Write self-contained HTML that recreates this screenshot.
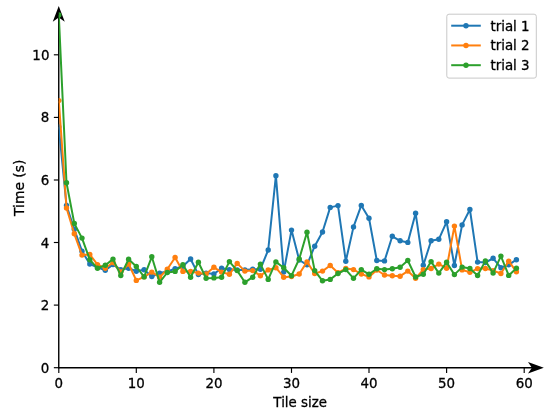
<!DOCTYPE html>
<html><head><meta charset="utf-8"><title>Tile size timing</title>
<style>
html,body{margin:0;padding:0;background:#fff;}
svg{display:block;}
text{font-family:"DejaVu Sans","Liberation Sans",sans-serif;font-size:13.9px;fill:#000;stroke:#000;stroke-width:0.3px;}
</style></head><body>
<svg width="550" height="415" viewBox="0 0 550 415">
<rect width="550" height="415" fill="#fff"/>
<defs><clipPath id="ax"><rect x="58.75" y="9" width="483" height="358.8"/></clipPath></defs>
<g stroke="#000" stroke-width="1.4" fill="none"><line x1="58.75" y1="368.34999999999997" x2="58.75" y2="17"/><line x1="58.1" y1="367.7" x2="532" y2="367.7"/></g>
<polygon points="58.75,6 64.75,21.7 58.75,17.6 52.75,21.7" fill="#000"/><polygon points="543.8,367.7 528,361.9 531.9,367.7 528,373.5" fill="#000"/>
<g stroke="#000" stroke-width="1.15"><line x1="58.8" y1="367.7" x2="58.8" y2="372.9"/><line x1="136.3" y1="367.7" x2="136.3" y2="372.9"/><line x1="213.9" y1="367.7" x2="213.9" y2="372.9"/><line x1="291.5" y1="367.7" x2="291.5" y2="372.9"/><line x1="369.0" y1="367.7" x2="369.0" y2="372.9"/><line x1="446.6" y1="367.7" x2="446.6" y2="372.9"/><line x1="524.2" y1="367.7" x2="524.2" y2="372.9"/><line x1="58.75" y1="367.7" x2="53.85" y2="367.7"/><line x1="58.75" y1="305.1" x2="53.85" y2="305.1"/><line x1="58.75" y1="242.5" x2="53.85" y2="242.5"/><line x1="58.75" y1="180.0" x2="53.85" y2="180.0"/><line x1="58.75" y1="117.4" x2="53.85" y2="117.4"/><line x1="58.75" y1="54.8" x2="53.85" y2="54.8"/></g>
<g text-anchor="middle"><text transform="translate(58.8,387.5) scale(0.965,1)">0</text><text transform="translate(136.3,387.5) scale(0.965,1)">10</text><text transform="translate(213.9,387.5) scale(0.965,1)">20</text><text transform="translate(291.5,387.5) scale(0.965,1)">30</text><text transform="translate(369.0,387.5) scale(0.965,1)">40</text><text transform="translate(446.6,387.5) scale(0.965,1)">50</text><text transform="translate(524.2,387.5) scale(0.965,1)">60</text></g>
<g text-anchor="end"><text transform="translate(49.4,372.7) scale(0.965,1)">0</text><text transform="translate(49.4,310.1) scale(0.965,1)">2</text><text transform="translate(49.4,247.5) scale(0.965,1)">4</text><text transform="translate(49.4,185.0) scale(0.965,1)">6</text><text transform="translate(49.4,122.4) scale(0.965,1)">8</text><text transform="translate(49.4,59.8) scale(0.965,1)">10</text></g>
<text transform="translate(300.2,406.5) scale(0.965,1)" text-anchor="middle">Tile size</text>
<text transform="translate(24.2,187.8) rotate(-90) scale(1,0.965)" text-anchor="middle">Time (s)</text>
<g clip-path="url(#ax)">
<polyline points="58.8,127.0 66.5,205.5 74.3,229.3 82.0,251.2 89.8,264.0 97.5,267.3 105.3,270.3 113.0,264.6 120.8,269.6 128.6,268.3 136.3,271.2 144.1,269.8 151.8,276.5 159.6,273.1 167.3,271.4 175.1,268.7 182.9,266.3 190.6,259.0 198.4,274.6 206.1,273.1 213.9,274.0 221.6,268.2 229.4,269.6 237.2,269.9 244.9,269.9 252.7,269.2 260.4,269.2 268.2,250.0 275.9,175.7 283.7,272.1 291.5,230.1 299.2,260.0 307.0,264.8 314.7,246.2 322.5,232.0 330.2,207.4 338.0,205.6 345.8,261.2 353.5,226.9 361.3,205.4 369.0,218.3 376.8,260.5 384.5,260.9 392.3,236.3 400.1,240.8 407.8,242.4 415.6,213.2 423.3,265.3 431.1,240.7 438.8,239.3 446.6,221.8 454.4,265.5 462.1,224.9 469.9,209.5 477.6,262.1 485.4,262.5 493.1,258.3 500.9,267.7 508.7,264.8 516.4,259.7" fill="none" stroke="#1f77b4" stroke-width="2.0" stroke-linejoin="round" stroke-linecap="butt"/>
<g fill="#1f77b4"><circle cx="58.8" cy="127.0" r="2.7"/><circle cx="66.5" cy="205.5" r="2.7"/><circle cx="74.3" cy="229.3" r="2.7"/><circle cx="82.0" cy="251.2" r="2.7"/><circle cx="89.8" cy="264.0" r="2.7"/><circle cx="97.5" cy="267.3" r="2.7"/><circle cx="105.3" cy="270.3" r="2.7"/><circle cx="113.0" cy="264.6" r="2.7"/><circle cx="120.8" cy="269.6" r="2.7"/><circle cx="128.6" cy="268.3" r="2.7"/><circle cx="136.3" cy="271.2" r="2.7"/><circle cx="144.1" cy="269.8" r="2.7"/><circle cx="151.8" cy="276.5" r="2.7"/><circle cx="159.6" cy="273.1" r="2.7"/><circle cx="167.3" cy="271.4" r="2.7"/><circle cx="175.1" cy="268.7" r="2.7"/><circle cx="182.9" cy="266.3" r="2.7"/><circle cx="190.6" cy="259.0" r="2.7"/><circle cx="198.4" cy="274.6" r="2.7"/><circle cx="206.1" cy="273.1" r="2.7"/><circle cx="213.9" cy="274.0" r="2.7"/><circle cx="221.6" cy="268.2" r="2.7"/><circle cx="229.4" cy="269.6" r="2.7"/><circle cx="237.2" cy="269.9" r="2.7"/><circle cx="244.9" cy="269.9" r="2.7"/><circle cx="252.7" cy="269.2" r="2.7"/><circle cx="260.4" cy="269.2" r="2.7"/><circle cx="268.2" cy="250.0" r="2.7"/><circle cx="275.9" cy="175.7" r="2.7"/><circle cx="283.7" cy="272.1" r="2.7"/><circle cx="291.5" cy="230.1" r="2.7"/><circle cx="299.2" cy="260.0" r="2.7"/><circle cx="307.0" cy="264.8" r="2.7"/><circle cx="314.7" cy="246.2" r="2.7"/><circle cx="322.5" cy="232.0" r="2.7"/><circle cx="330.2" cy="207.4" r="2.7"/><circle cx="338.0" cy="205.6" r="2.7"/><circle cx="345.8" cy="261.2" r="2.7"/><circle cx="353.5" cy="226.9" r="2.7"/><circle cx="361.3" cy="205.4" r="2.7"/><circle cx="369.0" cy="218.3" r="2.7"/><circle cx="376.8" cy="260.5" r="2.7"/><circle cx="384.5" cy="260.9" r="2.7"/><circle cx="392.3" cy="236.3" r="2.7"/><circle cx="400.1" cy="240.8" r="2.7"/><circle cx="407.8" cy="242.4" r="2.7"/><circle cx="415.6" cy="213.2" r="2.7"/><circle cx="423.3" cy="265.3" r="2.7"/><circle cx="431.1" cy="240.7" r="2.7"/><circle cx="438.8" cy="239.3" r="2.7"/><circle cx="446.6" cy="221.8" r="2.7"/><circle cx="454.4" cy="265.5" r="2.7"/><circle cx="462.1" cy="224.9" r="2.7"/><circle cx="469.9" cy="209.5" r="2.7"/><circle cx="477.6" cy="262.1" r="2.7"/><circle cx="485.4" cy="262.5" r="2.7"/><circle cx="493.1" cy="258.3" r="2.7"/><circle cx="500.9" cy="267.7" r="2.7"/><circle cx="508.7" cy="264.8" r="2.7"/><circle cx="516.4" cy="259.7" r="2.7"/></g>
<polyline points="58.8,100.6 66.5,208.0 74.3,233.8 82.0,255.1 89.8,254.5 97.5,264.6 105.3,268.2 113.0,262.5 120.8,272.0 128.6,264.0 136.3,280.4 144.1,276.8 151.8,272.1 159.6,277.2 167.3,269.2 175.1,257.5 182.9,271.4 190.6,271.4 198.4,273.1 206.1,274.0 213.9,267.3 221.6,272.1 229.4,274.3 237.2,263.4 244.9,271.1 252.7,270.6 260.4,275.7 268.2,269.9 275.9,267.7 283.7,277.2 291.5,276.5 299.2,274.0 307.0,261.9 314.7,273.5 322.5,271.1 330.2,265.5 338.0,272.8 345.8,268.4 353.5,269.6 361.3,274.0 369.0,276.9 376.8,270.0 384.5,275.0 392.3,275.7 400.1,276.2 407.8,271.1 415.6,278.3 423.3,269.6 431.1,268.5 438.8,264.1 446.6,268.2 454.4,226.1 462.1,269.9 469.9,272.3 477.6,268.6 485.4,268.5 493.1,270.6 500.9,273.5 508.7,261.2 516.4,271.7" fill="none" stroke="#ff7f0e" stroke-width="2.0" stroke-linejoin="round" stroke-linecap="butt"/>
<g fill="#ff7f0e"><circle cx="58.8" cy="100.6" r="2.7"/><circle cx="66.5" cy="208.0" r="2.7"/><circle cx="74.3" cy="233.8" r="2.7"/><circle cx="82.0" cy="255.1" r="2.7"/><circle cx="89.8" cy="254.5" r="2.7"/><circle cx="97.5" cy="264.6" r="2.7"/><circle cx="105.3" cy="268.2" r="2.7"/><circle cx="113.0" cy="262.5" r="2.7"/><circle cx="120.8" cy="272.0" r="2.7"/><circle cx="128.6" cy="264.0" r="2.7"/><circle cx="136.3" cy="280.4" r="2.7"/><circle cx="144.1" cy="276.8" r="2.7"/><circle cx="151.8" cy="272.1" r="2.7"/><circle cx="159.6" cy="277.2" r="2.7"/><circle cx="167.3" cy="269.2" r="2.7"/><circle cx="175.1" cy="257.5" r="2.7"/><circle cx="182.9" cy="271.4" r="2.7"/><circle cx="190.6" cy="271.4" r="2.7"/><circle cx="198.4" cy="273.1" r="2.7"/><circle cx="206.1" cy="274.0" r="2.7"/><circle cx="213.9" cy="267.3" r="2.7"/><circle cx="221.6" cy="272.1" r="2.7"/><circle cx="229.4" cy="274.3" r="2.7"/><circle cx="237.2" cy="263.4" r="2.7"/><circle cx="244.9" cy="271.1" r="2.7"/><circle cx="252.7" cy="270.6" r="2.7"/><circle cx="260.4" cy="275.7" r="2.7"/><circle cx="268.2" cy="269.9" r="2.7"/><circle cx="275.9" cy="267.7" r="2.7"/><circle cx="283.7" cy="277.2" r="2.7"/><circle cx="291.5" cy="276.5" r="2.7"/><circle cx="299.2" cy="274.0" r="2.7"/><circle cx="307.0" cy="261.9" r="2.7"/><circle cx="314.7" cy="273.5" r="2.7"/><circle cx="322.5" cy="271.1" r="2.7"/><circle cx="330.2" cy="265.5" r="2.7"/><circle cx="338.0" cy="272.8" r="2.7"/><circle cx="345.8" cy="268.4" r="2.7"/><circle cx="353.5" cy="269.6" r="2.7"/><circle cx="361.3" cy="274.0" r="2.7"/><circle cx="369.0" cy="276.9" r="2.7"/><circle cx="376.8" cy="270.0" r="2.7"/><circle cx="384.5" cy="275.0" r="2.7"/><circle cx="392.3" cy="275.7" r="2.7"/><circle cx="400.1" cy="276.2" r="2.7"/><circle cx="407.8" cy="271.1" r="2.7"/><circle cx="415.6" cy="278.3" r="2.7"/><circle cx="423.3" cy="269.6" r="2.7"/><circle cx="431.1" cy="268.5" r="2.7"/><circle cx="438.8" cy="264.1" r="2.7"/><circle cx="446.6" cy="268.2" r="2.7"/><circle cx="454.4" cy="226.1" r="2.7"/><circle cx="462.1" cy="269.9" r="2.7"/><circle cx="469.9" cy="272.3" r="2.7"/><circle cx="477.6" cy="268.6" r="2.7"/><circle cx="485.4" cy="268.5" r="2.7"/><circle cx="493.1" cy="270.6" r="2.7"/><circle cx="500.9" cy="273.5" r="2.7"/><circle cx="508.7" cy="261.2" r="2.7"/><circle cx="516.4" cy="271.7" r="2.7"/></g>
<polyline points="58.8,15.0 66.5,182.7 74.3,223.4 82.0,238.1 89.8,259.7 97.5,268.3 105.3,265.3 113.0,259.1 120.8,275.5 128.6,259.3 136.3,266.5 144.1,276.9 151.8,256.8 159.6,282.3 167.3,272.5 175.1,271.4 182.9,264.8 190.6,277.2 198.4,262.3 206.1,278.3 213.9,277.9 221.6,277.2 229.4,261.6 237.2,270.6 244.9,282.3 252.7,277.2 260.4,264.1 268.2,279.4 275.9,261.9 283.7,267.7 291.5,275.7 299.2,259.0 307.0,232.2 314.7,270.6 322.5,280.8 330.2,279.4 338.0,273.5 345.8,269.6 353.5,278.3 361.3,269.6 369.0,274.3 376.8,268.7 384.5,269.6 392.3,268.7 400.1,267.3 407.8,260.5 415.6,277.0 423.3,274.3 431.1,261.6 438.8,273.1 446.6,262.3 454.4,274.6 462.1,267.1 469.9,268.5 477.6,275.5 485.4,260.9 493.1,273.1 500.9,256.1 508.7,275.4 516.4,268.2" fill="none" stroke="#2ca02c" stroke-width="2.0" stroke-linejoin="round" stroke-linecap="butt"/>
<g fill="#2ca02c"><circle cx="58.8" cy="15.0" r="2.7"/><circle cx="66.5" cy="182.7" r="2.7"/><circle cx="74.3" cy="223.4" r="2.7"/><circle cx="82.0" cy="238.1" r="2.7"/><circle cx="89.8" cy="259.7" r="2.7"/><circle cx="97.5" cy="268.3" r="2.7"/><circle cx="105.3" cy="265.3" r="2.7"/><circle cx="113.0" cy="259.1" r="2.7"/><circle cx="120.8" cy="275.5" r="2.7"/><circle cx="128.6" cy="259.3" r="2.7"/><circle cx="136.3" cy="266.5" r="2.7"/><circle cx="144.1" cy="276.9" r="2.7"/><circle cx="151.8" cy="256.8" r="2.7"/><circle cx="159.6" cy="282.3" r="2.7"/><circle cx="167.3" cy="272.5" r="2.7"/><circle cx="175.1" cy="271.4" r="2.7"/><circle cx="182.9" cy="264.8" r="2.7"/><circle cx="190.6" cy="277.2" r="2.7"/><circle cx="198.4" cy="262.3" r="2.7"/><circle cx="206.1" cy="278.3" r="2.7"/><circle cx="213.9" cy="277.9" r="2.7"/><circle cx="221.6" cy="277.2" r="2.7"/><circle cx="229.4" cy="261.6" r="2.7"/><circle cx="237.2" cy="270.6" r="2.7"/><circle cx="244.9" cy="282.3" r="2.7"/><circle cx="252.7" cy="277.2" r="2.7"/><circle cx="260.4" cy="264.1" r="2.7"/><circle cx="268.2" cy="279.4" r="2.7"/><circle cx="275.9" cy="261.9" r="2.7"/><circle cx="283.7" cy="267.7" r="2.7"/><circle cx="291.5" cy="275.7" r="2.7"/><circle cx="299.2" cy="259.0" r="2.7"/><circle cx="307.0" cy="232.2" r="2.7"/><circle cx="314.7" cy="270.6" r="2.7"/><circle cx="322.5" cy="280.8" r="2.7"/><circle cx="330.2" cy="279.4" r="2.7"/><circle cx="338.0" cy="273.5" r="2.7"/><circle cx="345.8" cy="269.6" r="2.7"/><circle cx="353.5" cy="278.3" r="2.7"/><circle cx="361.3" cy="269.6" r="2.7"/><circle cx="369.0" cy="274.3" r="2.7"/><circle cx="376.8" cy="268.7" r="2.7"/><circle cx="384.5" cy="269.6" r="2.7"/><circle cx="392.3" cy="268.7" r="2.7"/><circle cx="400.1" cy="267.3" r="2.7"/><circle cx="407.8" cy="260.5" r="2.7"/><circle cx="415.6" cy="277.0" r="2.7"/><circle cx="423.3" cy="274.3" r="2.7"/><circle cx="431.1" cy="261.6" r="2.7"/><circle cx="438.8" cy="273.1" r="2.7"/><circle cx="446.6" cy="262.3" r="2.7"/><circle cx="454.4" cy="274.6" r="2.7"/><circle cx="462.1" cy="267.1" r="2.7"/><circle cx="469.9" cy="268.5" r="2.7"/><circle cx="477.6" cy="275.5" r="2.7"/><circle cx="485.4" cy="260.9" r="2.7"/><circle cx="493.1" cy="273.1" r="2.7"/><circle cx="500.9" cy="256.1" r="2.7"/><circle cx="508.7" cy="275.4" r="2.7"/><circle cx="516.4" cy="268.2" r="2.7"/></g>
</g>
<rect x="446.8" y="14.2" width="89.5" height="63.9" rx="2.2" ry="2.2" fill="#fff" fill-opacity="0.8" stroke="#c8c8c8" stroke-width="1"/>
<line x1="451.2" y1="25.7" x2="480.8" y2="25.7" stroke="#1f77b4" stroke-width="2.0"/><circle cx="466" cy="25.7" r="2.7" fill="#1f77b4"/><text transform="translate(490.4,30.6) scale(0.965,1)">trial 1</text>
<line x1="451.2" y1="45.45" x2="480.8" y2="45.45" stroke="#ff7f0e" stroke-width="2.0"/><circle cx="466" cy="45.45" r="2.7" fill="#ff7f0e"/><text transform="translate(490.4,50.4) scale(0.965,1)">trial 2</text>
<line x1="451.2" y1="65.2" x2="480.8" y2="65.2" stroke="#2ca02c" stroke-width="2.0"/><circle cx="466" cy="65.2" r="2.7" fill="#2ca02c"/><text transform="translate(490.4,70.1) scale(0.965,1)">trial 3</text>
</svg>
</body></html>
